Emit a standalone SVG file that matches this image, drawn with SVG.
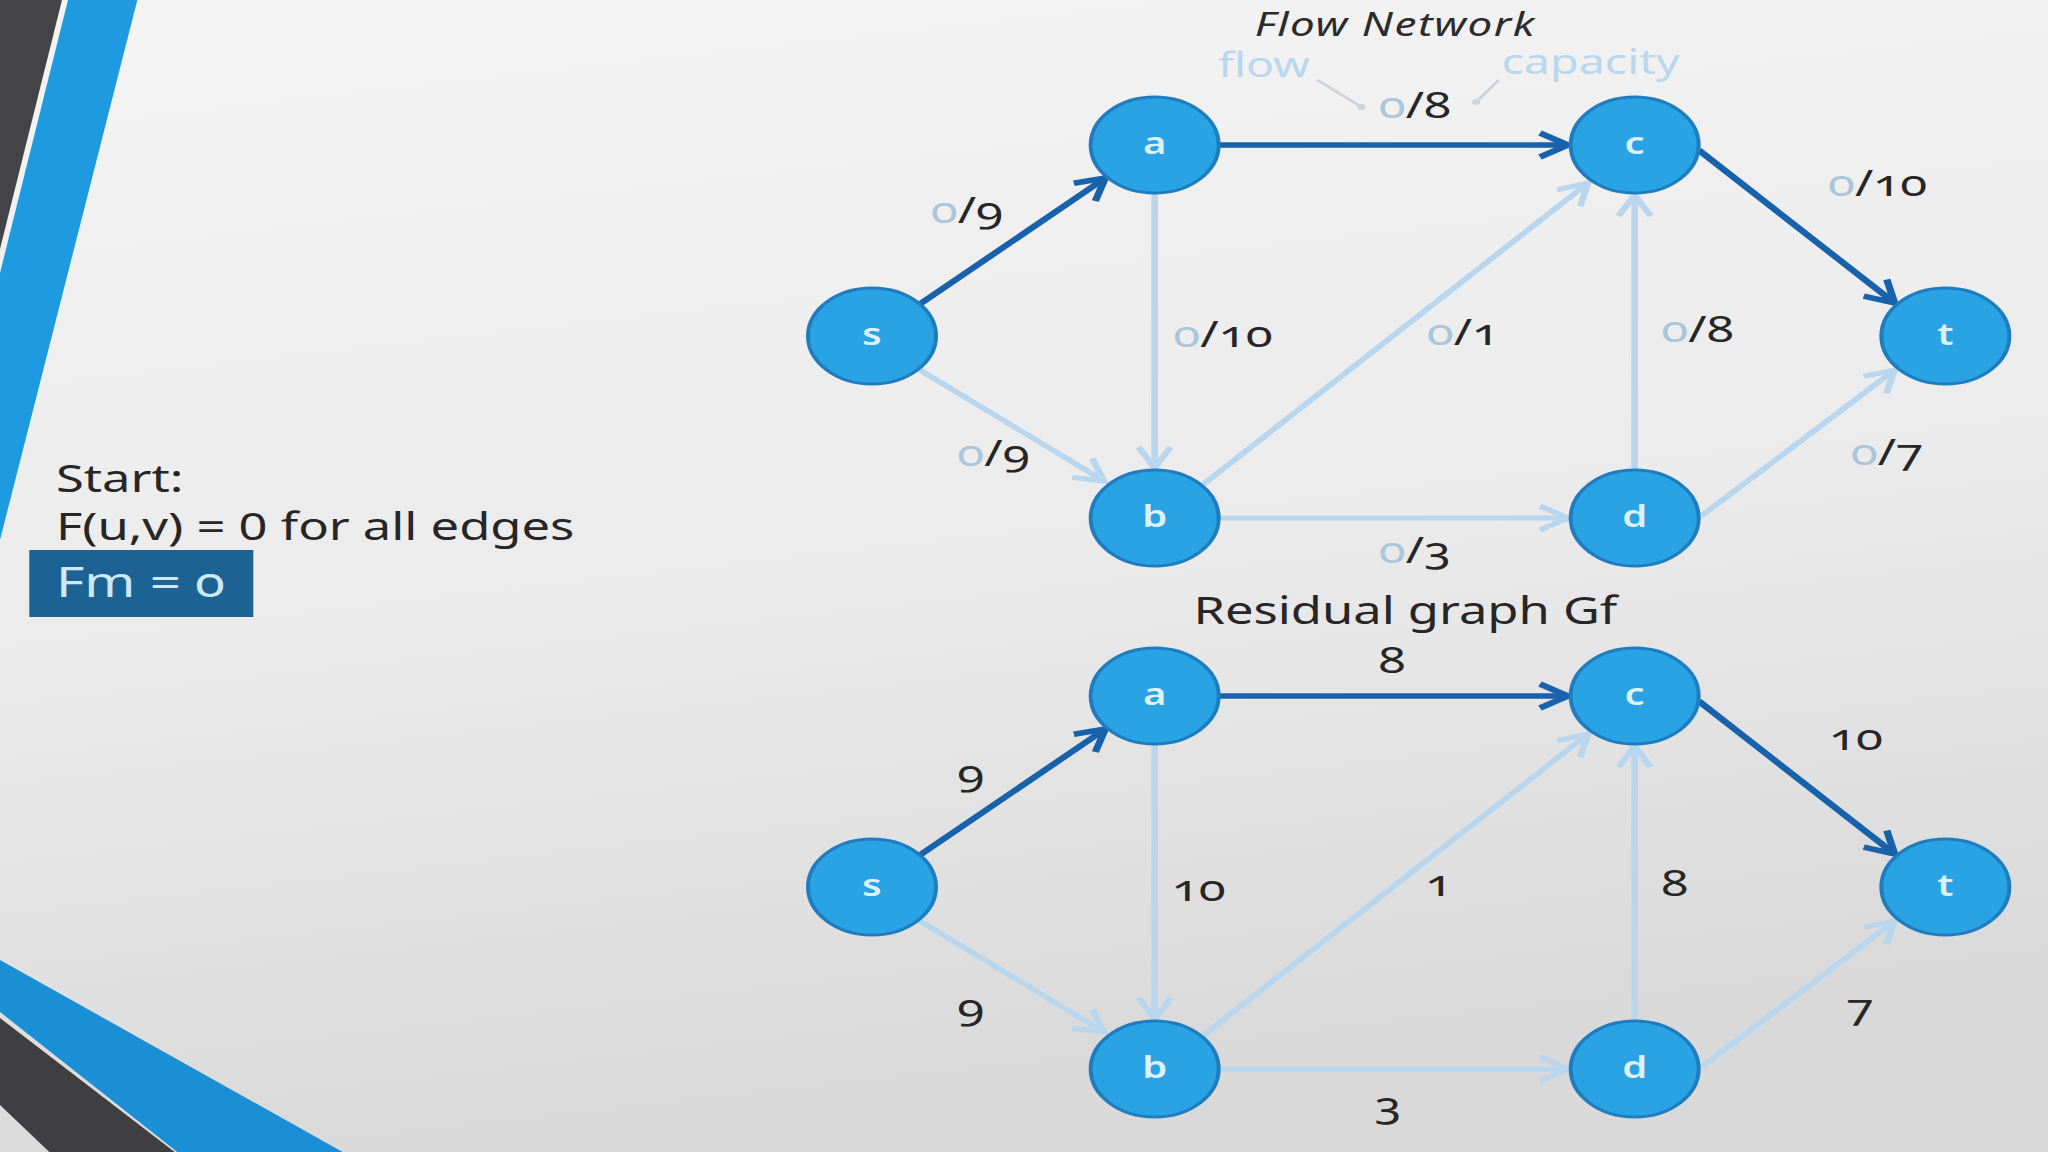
<svg xmlns="http://www.w3.org/2000/svg" width="2048" height="1152" viewBox="0 0 2048 1152">
<defs>
<linearGradient id="bgGrad" x1="0" y1="0" x2="0.2" y2="1">
<stop offset="0" stop-color="#f4f4f4"/>
<stop offset="0.55" stop-color="#ebebeb"/>
<stop offset="1" stop-color="#d9d9d9"/>
</linearGradient>
<marker id="arrD" markerUnits="userSpaceOnUse" viewBox="0 0 30 30" markerWidth="30" markerHeight="30" refX="26" refY="15" orient="auto" overflow="visible">
<path d="M5,3 L26,15 L5,27" fill="none" stroke="#1862ab" stroke-width="5.5"/>
</marker>
<marker id="arrL" markerUnits="userSpaceOnUse" viewBox="0 0 30 30" markerWidth="30" markerHeight="30" refX="26" refY="15" orient="auto" overflow="visible">
<path d="M5,3 L26,15 L5,27" fill="none" stroke="#b8d6ee" stroke-width="5"/>
</marker>
</defs>
<style>
.txt{font-family:"Noto Sans","Open Sans","Liberation Sans",sans-serif;}
.dark{stroke:#1862ab;stroke-width:5.5;fill:none;marker-end:url(#arrD);}
.light{stroke:#b8d6ee;stroke-width:5;fill:none;marker-end:url(#arrL);}
.node{fill:#29a3e4;stroke:#1f7dbf;stroke-width:3;}
.nl{font-family:"Noto Sans","Open Sans","Liberation Sans",sans-serif;font-size:30px;font-weight:600;fill:#dcf1fc;text-anchor:middle;}
.el{font-family:"Noto Sans","Open Sans","Liberation Sans",sans-serif;font-size:37px;fill:#262626;font-variant-numeric:oldstyle-nums;font-feature-settings:"onum" 1;}
.fl{fill:#a9c6da;}
.rl{font-family:"Noto Sans","Open Sans","Liberation Sans",sans-serif;font-size:37px;fill:#262626;text-anchor:middle;font-variant-numeric:oldstyle-nums;font-feature-settings:"onum" 1;}
.hint{font-family:"Noto Sans","Open Sans","Liberation Sans",sans-serif;font-size:35px;fill:#b9d7ee;}
.ptr{stroke:#cdd4da;stroke-width:2.5;fill:none;}
</style>
<g transform="scale(1.3333333 1)">
<rect x="0" y="0" width="1536" height="1152" fill="url(#bgGrad)"/>
<g id="decoration">
<polygon points="0,0 46.5,0 0,249" fill="#444446"/>
<polygon points="51,0 103,0 0,540 0,273" fill="#1e9be0"/>
<polygon points="0,960 257,1152 133,1152 0,1012" fill="#1b8fd6"/>
<polygon points="0,1018 131,1152 37,1152 0,1105" fill="#3f3f41"/>
</g>
<g id="left-text">
<text class="txt" x="42" y="492" font-size="38" fill="#262626">Start:</text>
<text class="txt" x="42" y="540" font-size="38" fill="#262626">F(u,v) = 0 for all edges</text>
<g id="fm-box">
<rect x="22" y="550" width="168" height="67" fill="#1c6393"/>
<text class="txt" x="42" y="597" font-size="41" fill="#cde9f8" style="font-variant-numeric:oldstyle-nums;font-feature-settings:'onum' 1">Fm = 0</text>
</g>
</g>
<g id="titles">
<text class="txt" x="1046" y="36" font-size="33" font-style="italic" fill="#2b2b2b" text-anchor="middle" textLength="210">Flow Network</text>
<text class="hint" x="948" y="77" text-anchor="middle">flow</text>
<text class="hint" x="1193" y="74" text-anchor="middle">capacity</text>
<path class="ptr" d="M988,80 L1020,106"/>
<circle cx="1021" cy="107" r="3" fill="#cdd4da"/>
<path class="ptr" d="M1124,80 L1108,101"/>
<circle cx="1107" cy="102" r="3" fill="#cdd4da"/>
<text class="txt" x="1054" y="624" font-size="38" fill="#262626" text-anchor="middle">Residual graph Gf</text>
</g>
<g id="connectors">
<line class="dark" x1="690" y1="304" x2="829" y2="178"/>
<line class="light" x1="690" y1="370" x2="828" y2="481"/>
<line class="light" x1="866" y1="193" x2="866" y2="468"/>
<line class="dark" x1="914" y1="145" x2="1176" y2="145"/>
<line class="dark" x1="1274" y1="150" x2="1421" y2="303"/>
<line class="light" x1="899" y1="488" x2="1191" y2="183"/>
<line class="light" x1="914" y1="518" x2="1176" y2="518"/>
<line class="light" x1="1226" y1="470" x2="1226" y2="195"/>
<line class="light" x1="1276" y1="516" x2="1421" y2="370"/>
<line class="dark" x1="690" y1="855" x2="829" y2="729"/>
<line class="light" x1="690" y1="921" x2="828" y2="1032"/>
<line class="light" x1="866" y1="744" x2="866" y2="1019"/>
<line class="dark" x1="914" y1="696" x2="1176" y2="696"/>
<line class="dark" x1="1274" y1="701" x2="1421" y2="854"/>
<line class="light" x1="899" y1="1039" x2="1191" y2="734"/>
<line class="light" x1="914" y1="1069" x2="1176" y2="1069"/>
<line class="light" x1="1226" y1="1021" x2="1226" y2="746"/>
<line class="light" x1="1276" y1="1067" x2="1421" y2="921"/>
</g>
<g id="edge-labels-top">
<text class="el" x="1034" y="118"><tspan class="fl">0</tspan>/8</text>
<text class="el" x="698" y="223"><tspan class="fl">0</tspan>/9</text>
<text class="el" x="880" y="347"><tspan class="fl">0</tspan>/10</text>
<text class="el" x="1070" y="345"><tspan class="fl">0</tspan>/1</text>
<text class="el" x="1246" y="342"><tspan class="fl">0</tspan>/8</text>
<text class="el" x="1371" y="196"><tspan class="fl">0</tspan>/10</text>
<text class="el" x="718" y="466"><tspan class="fl">0</tspan>/9</text>
<text class="el" x="1388" y="465"><tspan class="fl">0</tspan>/7</text>
<text class="el" x="1034" y="563"><tspan class="fl">0</tspan>/3</text>
</g>
<g id="edge-labels-bottom">
<text class="rl" x="1044" y="673">8</text>
<text class="rl" x="728" y="786">9</text>
<text class="rl" x="899" y="901" font-size="36">10</text>
<text class="rl" x="728" y="1020">9</text>
<text class="rl" x="1079" y="896">1</text>
<text class="rl" x="1256" y="896">8</text>
<text class="rl" x="1392" y="750" font-size="31">10</text>
<text class="rl" x="1395" y="1020">7</text>
<text class="rl" x="1041" y="1118">3</text>
</g>
<g id="node-s-top"><circle class="node" cx="654" cy="336" r="48"/><text class="nl" x="654" y="345">s</text></g>
<g id="node-a-top"><circle class="node" cx="866" cy="145" r="48"/><text class="nl" x="866" y="154">a</text></g>
<g id="node-c-top"><circle class="node" cx="1226" cy="145" r="48"/><text class="nl" x="1226" y="154">c</text></g>
<g id="node-t-top"><circle class="node" cx="1459" cy="336" r="48"/><text class="nl" x="1459" y="345">t</text></g>
<g id="node-b-top"><circle class="node" cx="866" cy="518" r="48"/><text class="nl" x="866" y="527">b</text></g>
<g id="node-d-top"><circle class="node" cx="1226" cy="518" r="48"/><text class="nl" x="1226" y="527">d</text></g>
<g id="node-s-res"><circle class="node" cx="654" cy="887" r="48"/><text class="nl" x="654" y="896">s</text></g>
<g id="node-a-res"><circle class="node" cx="866" cy="696" r="48"/><text class="nl" x="866" y="705">a</text></g>
<g id="node-c-res"><circle class="node" cx="1226" cy="696" r="48"/><text class="nl" x="1226" y="705">c</text></g>
<g id="node-t-res"><circle class="node" cx="1459" cy="887" r="48"/><text class="nl" x="1459" y="896">t</text></g>
<g id="node-b-res"><circle class="node" cx="866" cy="1069" r="48"/><text class="nl" x="866" y="1078">b</text></g>
<g id="node-d-res"><circle class="node" cx="1226" cy="1069" r="48"/><text class="nl" x="1226" y="1078">d</text></g>
</g>
</svg>
